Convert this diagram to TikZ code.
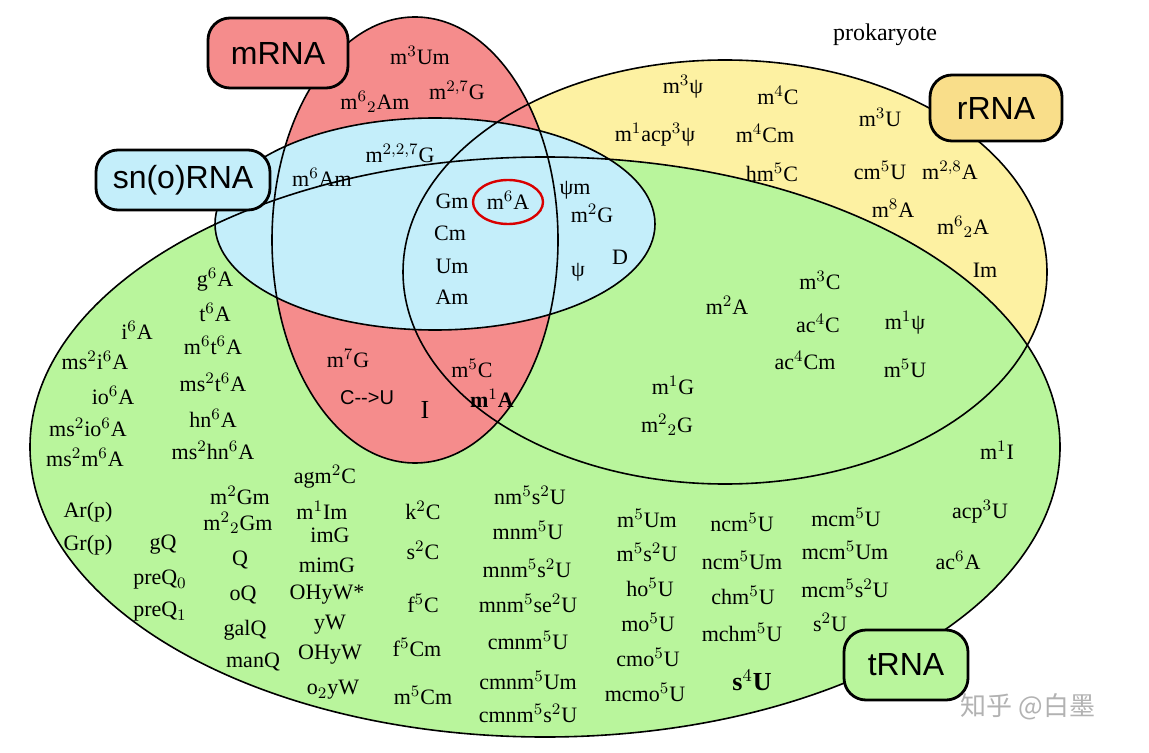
\documentclass[tikz,border=0pt]{standalone}
\usepackage{fontspec}
\setmainfont{Liberation Serif}
\newfontfamily\boxfont{Liberation Sans}
\newfontfamily\cjkfont{Noto Sans CJK SC}
\definecolor{cred}{HTML}{F58C8C}
\definecolor{cblue}{HTML}{C4EEFA}
\definecolor{cyel}{HTML}{FDF1A2}
\definecolor{cyelbox}{HTML}{F9DE8A}
\definecolor{cgreen}{HTML}{B9F59C}
\begin{document}
\begin{tikzpicture}[x=0.5pt,y=-0.5pt,
  lab/.style={font=\fontsize{11}{12}\selectfont, inner sep=0pt},
  tag/.style={draw=black, line width=1.4pt, rounded corners=11pt, font=\boxfont\fontsize{16}{18}\selectfont, inner sep=0pt},
  set/.style={draw=black, line width=0.8pt}]
\useasboundingbox (0,0) rectangle (1149,753);
% fills
\fill[cyel] (725,272) ellipse [x radius=161pt, y radius=106pt];
\fill[cgreen] (545,447) ellipse [x radius=257.5pt, y radius=145pt];
\fill[cred] (415,240) ellipse [x radius=71.5pt, y radius=111.5pt];
\fill[cblue] (435,224) ellipse [x radius=110pt, y radius=53pt];
% outlines
\draw[set] (725,272) ellipse [x radius=161pt, y radius=106pt];
\draw[set] (545,447) ellipse [x radius=257.5pt, y radius=145pt];
\draw[set] (415,240) ellipse [x radius=71.5pt, y radius=111.5pt];
\draw[set] (435,224) ellipse [x radius=110pt, y radius=53pt];
\draw[red!85!black, line width=1.2pt] (508,202) ellipse [x radius=17.5pt, y radius=11pt];
% tags
\node[tag, fill=cred, minimum width=70pt, minimum height=35pt] (mrna) at (278,53) {mRNA};
\node[tag, fill=cblue, minimum width=87pt, minimum height=30pt] (snorna) at (183,180) {sn(o)RNA};
\node[tag, fill=cyelbox, minimum width=66pt, minimum height=33pt] (rrna) at (996,108) {rRNA};
\node[tag, fill=cgreen, minimum width=62pt, minimum height=35pt] (trna) at (906,665) {tRNA};
\node[lab, font=\fontsize{12}{14}\selectfont] (prok) at (885,35) {prokaryote};
\node[inner sep=0pt, text=black!30, font=\cjkfont\fontsize{13}{14}\selectfont] (wm) at (1028,707) {知乎 @白墨};
% red only
\node[lab] (a1) at (420,55) {m$^3$Um};
\node[lab] (a2) at (375,102) {m$^6{}_2$Am};
\node[lab] (a3) at (457,90) {m$^{2,7}$G};
% blue/red
\node[lab] (a4) at (400,153) {m$^{2,2,7}$G};
\node[lab] (a5) at (322,177) {m$^6$Am};
\node[lab] (a6) at (452,201) {Gm};
\node[lab] (a7) at (508,200) {m$^6$A};
\node[lab] (a8) at (450,233) {Cm};
\node[lab] (a9) at (452,266) {Um};
\node[lab] (a10) at (452,297) {Am};
\node[lab] (a11) at (575,190) {ψm};
\node[lab] (a12) at (592,213) {m$^2$G};
\node[lab] (a13) at (578,272) {ψ};
\node[lab] (a14) at (620,257) {D};
\node[lab] (a15) at (348,358) {m$^7$G};
\node[lab, font=\boxfont\fontsize{10}{12}\selectfont] (a16) at (367,398) {C-->U};
\node[lab, font=\fontsize{13}{14}\selectfont] (a17) at (425,410) {I};
\node[lab] (a18) at (472,368) {m$^5$C};
\node[lab, font=\bfseries\fontsize{11}{12}\selectfont] (a19) at (492,398) {m$^1$A};
% yellow
\node[lab] (b1) at (683,87) {m$^3$ψ};
\node[lab] (b2) at (778,95) {m$^4$C};
\node[lab] (b3) at (655,135) {m$^1$acp$^3$ψ};
\node[lab] (b4) at (765,133) {m$^4$Cm};
\node[lab] (b5) at (772,172) {hm$^5$C};
\node[lab] (b6) at (880,117) {m$^3$U};
\node[lab] (b7) at (880,170) {cm$^5$U};
\node[lab] (b8) at (950,170) {m$^{2,8}$A};
\node[lab] (b9) at (893,208) {m$^8$A};
\node[lab] (b10) at (963,227) {m$^6{}_2$A};
\node[lab] (b11) at (985,270) {Im};
% green right
\node[lab] (c1) at (820,280) {m$^3$C};
\node[lab] (c2) at (727,305) {m$^2$A};
\node[lab] (c3) at (818,323) {ac$^4$C};
\node[lab] (c4) at (905,323) {m$^1$ψ};
\node[lab] (c5) at (805,360) {ac$^4$Cm};
\node[lab] (c6) at (905,368) {m$^5$U};
\node[lab] (c7) at (673,385) {m$^1$G};
\node[lab] (c8) at (667,425) {m$^2{}_2$G};
\node[lab] (c9) at (997,450) {m$^1$I};
% green left
\node[lab] (d1) at (137,330) {i$^6$A};
\node[lab] (d2) at (95,360) {ms$^2$i$^6$A};
\node[lab] (d3) at (113,395) {io$^6$A};
\node[lab] (d4) at (88,427) {ms$^2$io$^6$A};
\node[lab] (d5) at (85,457) {ms$^2$m$^6$A};
\node[lab] (d6) at (215,280) {g$^6$A};
\node[lab] (d7) at (215,312) {t$^6$A};
\node[lab] (d8) at (213,345) {m$^6$t$^6$A};
\node[lab] (d9) at (213,382) {ms$^2$t$^6$A};
\node[lab] (d10) at (213,418) {hn$^6$A};
\node[lab] (d11) at (213,450) {ms$^2$hn$^6$A};
% green bottom left
\node[lab] (e1) at (325,477) {agm$^2$C};
\node[lab] (e2) at (240,495) {m$^2$Gm};
\node[lab] (e3) at (322,510) {m$^1$Im};
\node[lab] (e4) at (88,512) {Ar(p)};
\node[lab] (e5) at (238,523) {m$^2{}_2$Gm};
\node[lab] (e6) at (330,535) {imG};
\node[lab] (e7) at (88,545) {Gr(p)};
\node[lab] (e8) at (163,545) {gQ};
\node[lab] (e9) at (240,560) {Q};
\node[lab] (e10) at (423,510) {k$^2$C};
\node[lab] (e11) at (423,550) {s$^2$C};
\node[lab] (e12) at (327,565) {mimG};
\node[lab] (e13) at (160,580) {preQ$_0$};
\node[lab] (e14) at (243,595) {oQ};
\node[lab] (e15) at (327,595) {OHyW*};
\node[lab] (e16) at (423,603) {f$^5$C};
\node[lab] (e17) at (160,612) {preQ$_1$};
\node[lab] (e18) at (245,630) {galQ};
\node[lab] (e19) at (330,625) {yW};
\node[lab] (e20) at (417,647) {f$^5$Cm};
\node[lab] (e21) at (253,662) {manQ};
\node[lab] (e22) at (330,655) {OHyW};
\node[lab] (e23) at (333,690) {o$_2$yW};
\node[lab] (e24) at (423,695) {m$^5$Cm};
% green middle column
\node[lab] (f1) at (530,495) {nm$^5$s$^2$U};
\node[lab] (f2) at (528,530) {mnm$^5$U};
\node[lab] (f3) at (527,568) {mnm$^5$s$^2$U};
\node[lab] (f4) at (528,603) {mnm$^5$se$^2$U};
\node[lab] (f5) at (528,640) {cmnm$^5$U};
\node[lab] (f6) at (528,680) {cmnm$^5$Um};
\node[lab] (f7) at (528,713) {cmnm$^5$s$^2$U};
% green bottom right
\node[lab] (g1) at (647,518) {m$^5$Um};
\node[lab] (g2) at (647,552) {m$^5$s$^2$U};
\node[lab] (g3) at (650,587) {ho$^5$U};
\node[lab] (g4) at (648,622) {mo$^5$U};
\node[lab] (g5) at (648,657) {cmo$^5$U};
\node[lab] (g6) at (645,692) {mcmo$^5$U};
\node[lab] (g7) at (742,522) {ncm$^5$U};
\node[lab] (g8) at (742,560) {ncm$^5$Um};
\node[lab] (g9) at (743,595) {chm$^5$U};
\node[lab] (g10) at (742,632) {mchm$^5$U};
\node[lab, font=\bfseries\fontsize{13}{14}\selectfont] (g11) at (752,680) {s$^4$U};
\node[lab] (g12) at (846,517) {mcm$^5$U};
\node[lab] (g13) at (845,550) {mcm$^5$Um};
\node[lab] (g14) at (845,588) {mcm$^5$s$^2$U};
\node[lab] (g15) at (830,622) {s$^2$U};
\node[lab] (g16) at (980,512) {acp$^3$U};
\node[lab] (g17) at (958,560) {ac$^6$A};
\end{tikzpicture}
\end{document}
